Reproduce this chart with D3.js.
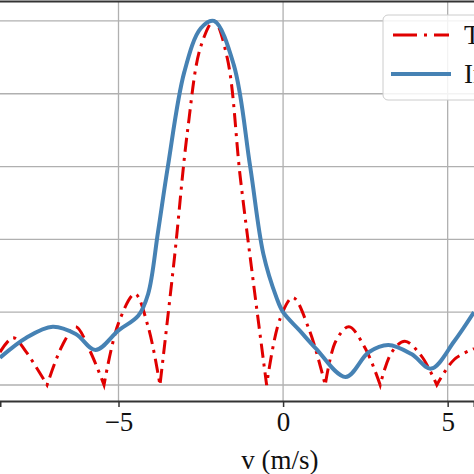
<!DOCTYPE html><html><head><meta charset="utf-8"><script src="https://cdn.jsdelivr.net/npm/d3@7"></script>
<style>body{margin:0;background:#fff}</style></head><body><svg id="c" width="474" height="474"></svg><script>
const xTicks=[-5,0,5];
const yTicks=[0,0.2,0.4,0.6,0.8,1.0];
const seriesNames=["Theoretical","Inversion"];
const redX=[-8.6,-8.2,-7.8,-7.17,-6.7,-6.3,-5.9,-5.44,-5.0,-4.5,-4.1,-3.74,-3.3,-2.9,-2.5,-2.1,-1.7,-1.3,-0.9,-0.5,-0.1,0.3,0.8,1.28,1.6,2.0,2.5,2.95,3.3,3.7,4.2,4.67,5.2,5.8];
const redY=[0.09,0.13,0.09,0,0.11,0.16,0.1,0,0.17,0.25,0.16,0,0.35,0.7,0.93,1.0,0.9,0.57,0.28,0,0.18,0.24,0.15,0,0.12,0.16,0.1,0,0.09,0.12,0.08,0,0.07,0.1];
const redZeros=[3,7,11,19,23,27,31];
const blueX=[-8.6,-7.8,-7.0,-6.3,-5.7,-5.0,-4.4,-4.1,-3.8,-3.5,-3.0,-2.5,-2.1,-1.5,-1.0,-0.6,-0.2,0,0.5,1.0,1.9,2.6,3.2,3.9,4.5,5.2,5.8];
const blueY=[0.075,0.13,0.16,0.14,0.096,0.15,0.19,0.25,0.42,0.6,0.86,0.98,1.0,0.88,0.6,0.36,0.24,0.2,0.15,0.1,0.022,0.09,0.11,0.085,0.045,0.12,0.2];
const svg=d3.select("#c");
const x=d3.scaleLinear().domain([-8.6,5.8]).range([0,474]);
const y=d3.scaleLinear().domain([-0.044,1.052]).range([401,2]);
const g=svg.append("g");
g.selectAll(".vg").data(xTicks).join("line").attr("x1",d=>x(d)).attr("x2",d=>x(d)).attr("y1",2).attr("y2",401).attr("stroke","#b0b0b0").attr("stroke-width",1.3);
g.selectAll(".hg").data(yTicks).join("line").attr("x1",0).attr("x2",474).attr("y1",d=>y(d)).attr("y2",d=>y(d)).attr("stroke","#b0b0b0").attr("stroke-width",1.3);
svg.append("line").attr("x1",0).attr("x2",474).attr("y1",1.5).attr("y2",1.5).attr("stroke","#333").attr("stroke-width",2);
const ax=svg.append("g").attr("transform","translate(0,401)").call(d3.axisBottom(x).tickValues(xTicks).tickFormat(d=>d<0?"\u2212"+(-d):d).tickSize(6).tickPadding(5));
ax.select(".domain").attr("stroke","#333").attr("stroke-width",2);
ax.selectAll(".tick line").attr("stroke","#333").attr("stroke-width",1.5);
ax.selectAll("text").attr("font-family","'Liberation Serif', serif").attr("font-size",27).attr("fill","#111");
svg.append("text").attr("x",x(-0.1)).attr("y",469).attr("text-anchor","middle").attr("font-family","'Liberation Serif', serif").attr("font-size",27).attr("fill","#111").text("v (m/s)");
const pts=redX.map((v,i)=>[v,redY[i]]);
const br=[0,...redZeros,pts.length-1];
const lineC=d3.line().x(d=>x(d[0])).y(d=>y(d[1])).curve(d3.curveCatmullRom);
let dstr="";
for(let k=0;k<br.length-1;k++){const s=lineC(pts.slice(br[k],br[k+1]+1));dstr+=k===0?s:s.replace(/^M/,"L");}
svg.append("path").attr("d",dstr).attr("fill","none").attr("stroke","#e00000").attr("stroke-width",3).attr("stroke-dasharray","14,6,3,6");
const lineB=d3.line().x((d,i)=>x(blueX[i])).y(d=>y(d)).curve(d3.curveCatmullRom);
svg.append("path").attr("d",lineB(blueY)).attr("fill","none").attr("stroke","#4682b4").attr("stroke-width",4);
const lg=svg.append("g");
lg.append("rect").attr("x",383).attr("y",15).attr("width",110).attr("height",85).attr("rx",5).attr("fill","rgba(255,255,255,0.85)").attr("stroke","#ccc");
lg.append("line").attr("x1",393).attr("x2",449).attr("y1",35).attr("y2",35).attr("stroke","#e00000").attr("stroke-width",3).attr("stroke-dasharray","24,7,3,7");
lg.append("line").attr("x1",391).attr("x2",451).attr("y1",74).attr("y2",74).attr("stroke","#4682b4").attr("stroke-width",4);
lg.selectAll("text").data(seriesNames).join("text").attr("x",464).attr("y",(d,i)=>44+i*39).attr("font-family","'Liberation Serif', serif").attr("font-size",27).attr("fill","#111").text(d=>d);
</script></body></html>
